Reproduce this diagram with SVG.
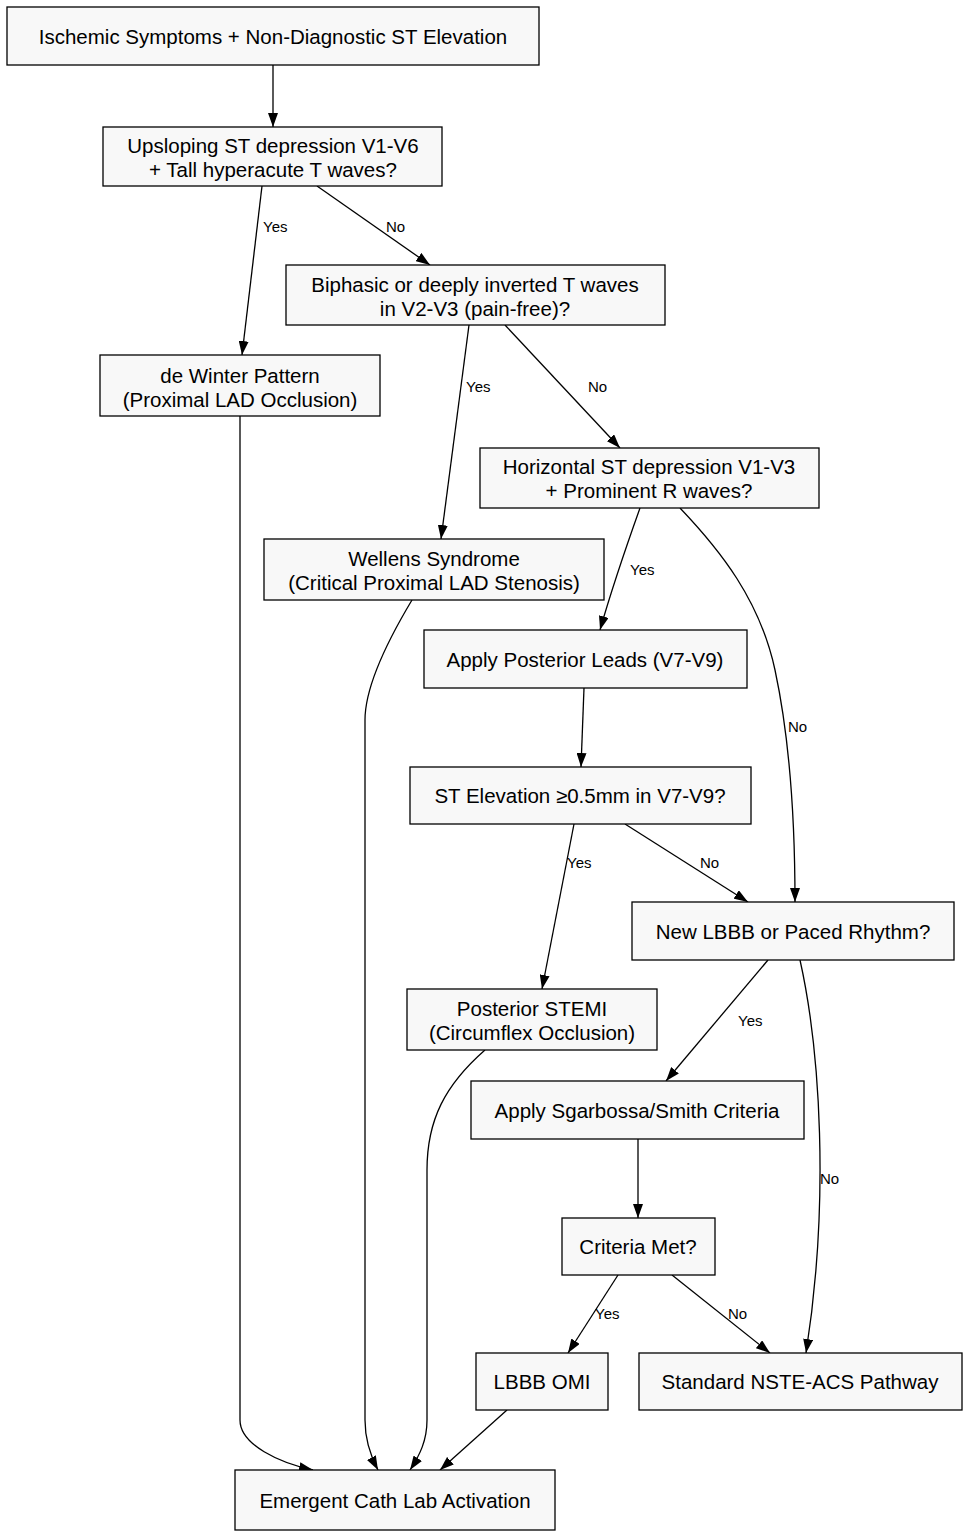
<svg xmlns="http://www.w3.org/2000/svg" width="969" height="1536" viewBox="0 0 969 1536">
<style>
.n rect{fill:#f8f8f8;stroke:#000;stroke-width:1.3}
.n text{font-family:"Liberation Sans",Arial,sans-serif;font-size:20.5px;text-anchor:middle;fill:#000}
.e path{fill:none;stroke:#000;stroke-width:1.3;marker-end:url(#a)}
.e text{font-family:"Liberation Sans",Arial,sans-serif;font-size:15px;fill:#000}
</style>
<defs><marker id="a" viewBox="0 0 14 10" refX="14" refY="5" markerWidth="14" markerHeight="10" markerUnits="userSpaceOnUse" orient="auto"><path d="M0,0 L14,5 L0,10z" fill="#000"/></marker></defs>
<rect width="969" height="1536" fill="#fff"/>
<g class="e">
<path d="M273,65 L273,127"/>
<path d="M262,186 L242,355"/><text x="263" y="232">Yes</text>
<path d="M317,186 L430,265"/><text x="386" y="232">No</text>
<path d="M240,416 L240,1420 C240,1445 280,1463 313,1470"/>
<path d="M469,325 L441,539"/><text x="466" y="392">Yes</text>
<path d="M505,325 L620,448"/><text x="588" y="392">No</text>
<path d="M640,508 C625,550 610,595 600,630"/><text x="630" y="575">Yes</text>
<path d="M680,508 C720,550 760,600 775,670 C790,740 795,820 795,902"/><text x="788" y="732">No</text>
<path d="M412,600 C385,645 365,690 365,720 L365,1420 C365,1440 370,1455 378,1470"/>
<path d="M584,688 L581,767"/>
<path d="M574,824 L542,989"/><text x="567" y="868">Yes</text>
<path d="M625,824 L748,902"/><text x="700" y="868">No</text>
<path d="M768,960 L666,1081"/><text x="738" y="1026">Yes</text>
<path d="M800,960 C820,1050 830,1200 806,1353"/><text x="820" y="1184">No</text>
<path d="M485,1050 C445,1085 427,1120 427,1170 L427,1420 C427,1440 420,1455 410,1470"/>
<path d="M638,1139 L638,1218"/>
<path d="M618,1275 L568,1353"/><text x="595" y="1319">Yes</text>
<path d="M672,1275 L770,1353"/><text x="728" y="1319">No</text>
<path d="M507,1410 L440,1470"/>
</g>
<g id="n1" class="n"><rect x="7" y="7" width="532" height="58"/><text x="273" y="44">Ischemic Symptoms + Non-Diagnostic ST Elevation</text></g>
<g id="n2" class="n"><rect x="103" y="127" width="339" height="59"/><text x="273" y="153">Upsloping ST depression V1-V6</text><text x="273" y="177">+ Tall hyperacute T waves?</text></g>
<g id="n3" class="n"><rect x="286" y="265" width="379" height="60"/><text x="475" y="292">Biphasic or deeply inverted T waves</text><text x="475" y="316">in V2-V3 (pain-free)?</text></g>
<g id="n4" class="n"><rect x="100" y="355" width="280" height="61"/><text x="240" y="383">de Winter Pattern</text><text x="240" y="407">(Proximal LAD Occlusion)</text></g>
<g id="n5" class="n"><rect x="480" y="448" width="339" height="60"/><text x="649" y="474">Horizontal ST depression V1-V3</text><text x="649" y="498">+ Prominent R waves?</text></g>
<g id="n6" class="n"><rect x="264" y="539" width="340" height="61"/><text x="434" y="566">Wellens Syndrome</text><text x="434" y="590">(Critical Proximal LAD Stenosis)</text></g>
<g id="n7" class="n"><rect x="424" y="630" width="323" height="58"/><text x="585" y="667">Apply Posterior Leads (V7-V9)</text></g>
<g id="n8" class="n"><rect x="410" y="767" width="341" height="57"/><text x="580" y="803">ST Elevation ≥0.5mm in V7-V9?</text></g>
<g id="n9" class="n"><rect x="632" y="902" width="322" height="58"/><text x="793" y="939">New LBBB or Paced Rhythm?</text></g>
<g id="n10" class="n"><rect x="407" y="989" width="250" height="61"/><text x="532" y="1016">Posterior STEMI</text><text x="532" y="1040">(Circumflex Occlusion)</text></g>
<g id="n11" class="n"><rect x="471" y="1081" width="333" height="58"/><text x="637" y="1118">Apply Sgarbossa/Smith Criteria</text></g>
<g id="n12" class="n"><rect x="562" y="1218" width="153" height="57"/><text x="638" y="1254">Criteria Met?</text></g>
<g id="n13" class="n"><rect x="476" y="1353" width="132" height="57"/><text x="542" y="1389">LBBB OMI</text></g>
<g id="n14" class="n"><rect x="639" y="1353" width="323" height="57"/><text x="800" y="1389">Standard NSTE-ACS Pathway</text></g>
<g id="n15" class="n"><rect x="235" y="1470" width="320" height="60"/><text x="395" y="1508">Emergent Cath Lab Activation</text></g>
</svg>
